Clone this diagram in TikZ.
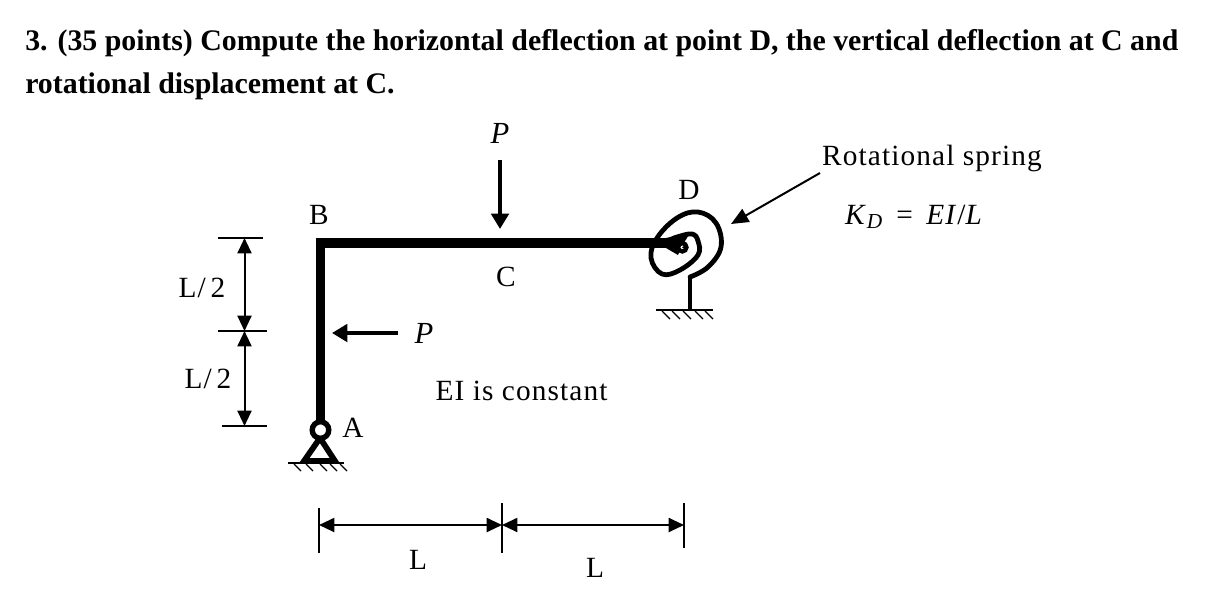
\documentclass[tikz,border=0pt]{standalone}
\usepackage{fontspec}
\setmainfont{Liberation Serif}
\newfontfamily\lblfont[LetterSpace=3.8]{Liberation Serif}
\usetikzlibrary{arrows.meta}
\tikzset{
  x=0.75pt,y=-0.75pt,
  titletext/.style={anchor=base west,inner sep=0pt,font=\fontsize{22.4pt}{24pt}\selectfont\bfseries},
  lbl/.style={inner sep=0pt,font=\fontsize{22pt}{24pt}\selectfont\lblfont},
  plbl/.style={inner sep=0pt,font=\fontsize{23pt}{24pt}\selectfont\itshape},
  member/.style={line width=7pt},
  thin member/.style={line width=3.2pt},
  dimline/.style={line width=1.5pt,{Triangle[length=11.5pt,width=10.5pt]}-{Triangle[length=11.5pt,width=10.5pt]}},
  tick/.style={line width=1.3pt},
  load/.style={line width=3pt,-{Triangle[length=11.5pt,width=13pt]}},
  hatch/.style={line width=0.9pt},
  springline/.style={line width=3.6pt,line join=round,line cap=round},
}
\begin{document}
\begin{tikzpicture}
\useasboundingbox (0,0) rectangle (1214,608);
\fill[white] (0,0) rectangle (1214,608);
% title
\node[titletext] (t1) at (25,50) {3. (35 points) Compute the horizontal deflection at point D, the vertical deflection at C and};
\node[titletext] (t2) at (25,93) {rotational displacement at C.};
% structure points
\coordinate (Apin) at (320.5,430);
\coordinate (Bc) at (320.5,243);
\coordinate (Beam) at (668,243);
\coordinate (Dc) at (682.3,247.3);
\coordinate (Sbase) at (690,310);
\coordinate (Stop) at (690,277);
% frame
\draw[member,line join=miter] (Apin) -- (Bc) -- (Beam);
% spring
\draw[springline] plot[smooth,tension=0.65] coordinates {(690,277) (708,267) (721,247) (716,223) (698,212) (677,218) (657,238) (651,258) (662,274) (680,270) (698,255) (698,241) (692,234) (677,237) (670,240)};
% wedge from beam to hub
\fill (666,238) -- (690,233) -- (682,246) -- (678,255) -- (666,248) -- cycle;
\draw[line width=3.2pt,fill=white] (Dc) circle (4.2);
\fill (Dc) ++(1,0) circle (1.2);
% spring support
\draw[thin member] (Stop) -- (Sbase);
\draw[line width=1.2pt] (656,310) -- (713,310);
\foreach \x in {662,672,683,695,705} \draw[hatch] (\x,311) -- (\x+8,319);
% pin support
\draw[line width=4.3pt,line join=miter,fill=white] (320,438) -- (304,461) -- (335,461) -- cycle;
\draw[line width=4pt,fill=white] (Apin) circle (8.3);
\draw[line width=1.3pt] (288,463) -- (344,463);
\foreach \x in {294,306,320,330,340} \draw[hatch] (\x,464) -- (\x+7,471);
% loads
\coordinate (P1s) at (500,160);
\coordinate (P1e) at (500,229);
\draw[load] (P1s) -- (P1e);
\coordinate (P2s) at (398,333);
\coordinate (P2e) at (332,333);
\draw[load] (P2s) -- (P2e);
% vertical dims
\coordinate (V1) at (244.5,238);
\coordinate (V2) at (244.5,331);
\coordinate (V3) at (244.5,426);
\draw[tick] (218,238) -- (263,238);
\draw[tick] (218,331) -- (267,331);
\draw[tick] (222,426) -- (267,426);
\draw[dimline] (V1) -- (V2);
\draw[dimline] (V2) -- (V3);
% horizontal dims
\coordinate (H1) at (319,525);
\coordinate (H2) at (502,525);
\coordinate (H3) at (684,525);
\draw[tick] (319,508) -- (319,553);
\draw[tick] (502,503) -- (502,553);
\draw[tick] (684,503) -- (684,548);
\draw[dimline] (H1) -- (H2);
\draw[dimline] (H2) -- (H3);
% spring leader
\coordinate (Leadstart) at (820,173);
\coordinate (Leadend) at (731,224);
\draw[line width=1.5pt,-{Triangle[length=13pt,width=11pt]}] (Leadstart) -- (Leadend);
% labels
\node[plbl] (lp1) at (500,133) {P};
\node[plbl] (lp2) at (424,333) {P};
\node[lbl] (lb) at (319,215) {B};
\node[lbl] (lc) at (506,277) {C};
\node[lbl] (ld) at (689,190) {D};
\node[lbl] (la) at (353,428) {A};
\node[lbl] (ll1) at (202,288) {L/\,2};
\node[lbl] (ll2) at (208,379) {L/\,2};
\node[lbl] (lei) at (521.5,391) {EI is constant};
\node[lbl] (ll3) at (418,560) {L};
\node[lbl] (ll4) at (595,568) {L};
\node[lbl] (lrs) at (932,158) {Rotational spring};
\node[lbl] (lk) at (914,217) {\textit{K}\raisebox{-3pt}{\fontsize{16pt}{16pt}\selectfont\textit{D}}\, =\, \textit{EI}/\textit{L}};
\end{tikzpicture}
\end{document}
